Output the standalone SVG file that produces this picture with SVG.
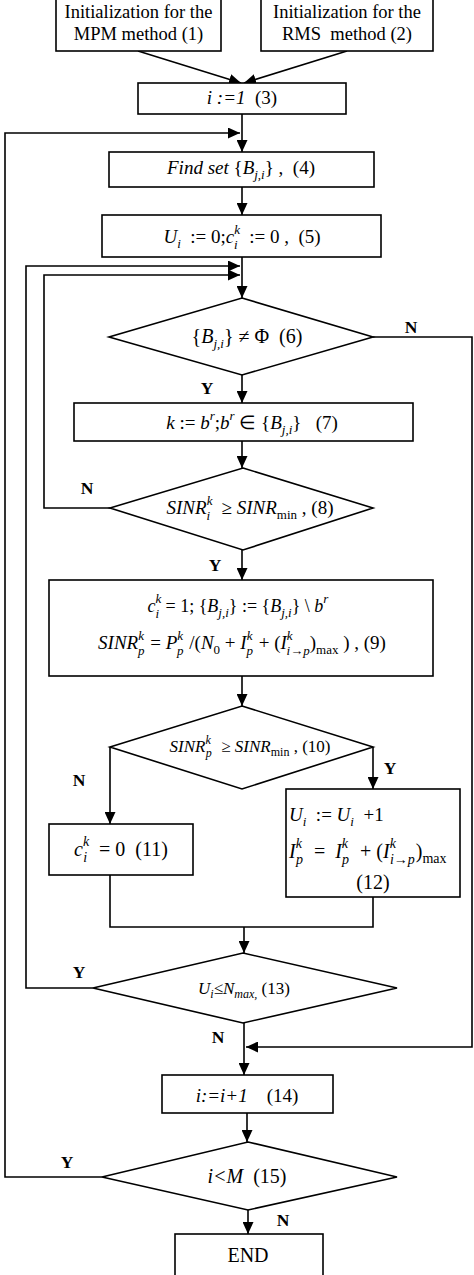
<svg xmlns="http://www.w3.org/2000/svg" width="474" height="1275" viewBox="0 0 474 1275">
<defs>
<style>
.box{fill:#fff;stroke:#000;stroke-width:1.6}
.ln{fill:none;stroke:#000;stroke-width:1.6}
text{font-family:"Liberation Serif","Times New Roman",serif;fill:#000;white-space:pre}
.f17{font-size:17px}
.f18{font-size:18px}
.f185{font-size:18.5px}
.f19{font-size:19px}
.f20{font-size:20px}
.i{font-style:italic}
.s{font-size:13px}
.s12{font-size:12px}
.s14{font-size:14px}
.lbl{font-size:17.5px;font-weight:bold}
</style>
<marker id="ar" markerWidth="12" markerHeight="11" refX="12" refY="5.5" orient="auto" markerUnits="userSpaceOnUse">
<path d="M0,0 L12,5.5 L0,11 z" fill="#000"/>
</marker>
</defs>
<rect width="474" height="1275" fill="#fff"/>

<g id="connectors">
<line class="ln" x1="138" y1="51" x2="241" y2="83" marker-end="url(#ar)"/>
<line class="ln" x1="347" y1="51" x2="244" y2="83" marker-end="url(#ar)"/>
<line class="ln" x1="242" y1="114" x2="242" y2="152" marker-end="url(#ar)"/>
<polyline class="ln" points="102,1177 5,1177 5,133 240,133" marker-end="url(#ar)"/>
<line class="ln" x1="242" y1="187" x2="242" y2="215" marker-end="url(#ar)"/>
<line class="ln" x1="242" y1="257" x2="242" y2="298" marker-end="url(#ar)"/>
<polyline class="ln" points="93,988 26,988 26,266 240,266" marker-end="url(#ar)"/>
<polyline class="ln" points="110,508 44,508 44,275 240,275" marker-end="url(#ar)"/>
<polyline class="ln" points="373,337 472,337 472,1047 246,1047" marker-end="url(#ar)"/>
<line class="ln" x1="242" y1="375" x2="242" y2="403" marker-end="url(#ar)"/>
<line class="ln" x1="242" y1="441" x2="242" y2="468" marker-end="url(#ar)"/>
<line class="ln" x1="242" y1="550" x2="242" y2="580" marker-end="url(#ar)"/>
<line class="ln" x1="242" y1="676" x2="242" y2="706" marker-end="url(#ar)"/>
<polyline class="ln" points="110,747 110,824" marker-end="url(#ar)"/>
<polyline class="ln" points="373,747 373,789" marker-end="url(#ar)"/>
<polyline class="ln" points="110,875 110,927 373,927 373,897"/>
<line class="ln" x1="244" y1="927" x2="244" y2="953" marker-end="url(#ar)"/>
<line class="ln" x1="244" y1="1023" x2="244" y2="1075" marker-end="url(#ar)"/>
<line class="ln" x1="247" y1="1113" x2="247" y2="1142" marker-end="url(#ar)"/>
<line class="ln" x1="248" y1="1210" x2="248" y2="1234" marker-end="url(#ar)"/>
</g>

<g id="labels">
<text class="lbl" x="411" y="333" text-anchor="middle">N</text>
<text class="lbl" x="207" y="394" text-anchor="middle">Y</text>
<text class="lbl" x="87" y="494" text-anchor="middle">N</text>
<text class="lbl" x="215" y="571" text-anchor="middle">Y</text>
<text class="lbl" x="79" y="786" text-anchor="middle">N</text>
<text class="lbl" x="390" y="774" text-anchor="middle">Y</text>
<text class="lbl" x="79" y="978" text-anchor="middle">Y</text>
<text class="lbl" x="218" y="1043" text-anchor="middle">N</text>
<text class="lbl" x="67" y="1168" text-anchor="middle">Y</text>
<text class="lbl" x="283" y="1226" text-anchor="middle">N</text>
</g>

<g id="n1">
<rect class="box" x="56" y="-2" width="165" height="53"/>
<text class="f185" x="138.5" y="18" text-anchor="middle">Initialization for the</text>
<text class="f185" x="138.5" y="40" text-anchor="middle">MPM method (1)</text>
</g>
<g id="n2">
<rect class="box" x="261" y="-2" width="172" height="53"/>
<text class="f185" x="347" y="18" text-anchor="middle">Initialization for the</text>
<text class="f185" x="347" y="40" text-anchor="middle">RMS  method (2)</text>
</g>
<g id="n3">
<rect class="box" x="138" y="83" width="208" height="31"/>
<text class="f19" x="242" y="104" text-anchor="middle"><tspan class="i">i :=1</tspan>  (3)</text>
</g>
<g id="n4">
<rect class="box" x="109" y="152" width="265" height="35"/>
<text class="f19" x="241" y="174" text-anchor="middle"><tspan class="i">Find set </tspan>{<tspan class="i">B</tspan><tspan class="s i" dy="5">j,i</tspan><tspan dy="-5">} ,  (4)</tspan></text>
</g>
<g id="n5">
<rect class="box" x="102" y="215" width="279" height="42"/>
<text class="f19" x="242" y="243" text-anchor="middle"><tspan class="i">U</tspan><tspan class="s i" dy="5">i</tspan><tspan dy="-5">  := 0;</tspan><tspan class="i">c</tspan><tspan class="s i" dy="-9">k</tspan><tspan class="s i" dx="-6" dy="15">i</tspan><tspan dx="2" dy="-6">  := 0 ,  (5)</tspan></text>
</g>
<g id="n6">
<polygon class="box" points="242,298 373,337 242,375 109,337"/>
<text class="f20" x="247" y="343" text-anchor="middle">{<tspan class="i">B</tspan><tspan class="s i" dy="5">j,i</tspan><tspan dy="-5">} ≠ Φ  (6)</tspan></text>
</g>
<g id="n7">
<rect class="box" x="74" y="403" width="339" height="38"/>
<text class="f19" x="252" y="429" text-anchor="middle"><tspan class="i">k</tspan> := <tspan class="i">b</tspan><tspan class="s i" dy="-9">r</tspan><tspan dy="9">;</tspan><tspan class="i">b</tspan><tspan class="s i" dy="-9">r</tspan><tspan dy="9"> ∈ {</tspan><tspan class="i">B</tspan><tspan class="s i" dy="5">j,i</tspan><tspan dy="-5">}   (7)</tspan></text>
</g>
<g id="n8">
<polygon class="box" points="243,468 373,508 243,550 110,508"/>
<text class="f19" x="250" y="514" text-anchor="middle"><tspan class="i">SINR</tspan><tspan class="s i" dy="-9">k</tspan><tspan class="s i" dx="-6" dy="15">i</tspan><tspan dx="2" dy="-6">  ≥ </tspan><tspan class="i">SINR</tspan><tspan class="s" dy="5">min</tspan><tspan dy="-5"> , (8)</tspan></text>
</g>
<g id="n9">
<rect class="box" x="49" y="580" width="384" height="96"/>
<text class="f18" x="238" y="612" text-anchor="middle"><tspan class="i">c</tspan><tspan class="s i" dy="-9">k</tspan><tspan class="s i" dx="-6" dy="15">i</tspan><tspan dx="2" dy="-6"> = 1; {</tspan><tspan class="i">B</tspan><tspan class="s i" dy="5">j,i</tspan><tspan dy="-5">} := {</tspan><tspan class="i">B</tspan><tspan class="s i" dy="5">j,i</tspan><tspan dy="-5">} \ </tspan><tspan class="i">b</tspan><tspan class="s i" dy="-9">r</tspan></text>
<text class="f19" x="242" y="649" text-anchor="middle"><tspan class="i">SINR</tspan><tspan class="s i" dy="-9">k</tspan><tspan class="s i" dx="-6" dy="15">p</tspan><tspan dx="1" dy="-6"> = </tspan><tspan class="i">P</tspan><tspan class="s i" dy="-9">k</tspan><tspan class="s i" dx="-6" dy="15">p</tspan><tspan dx="1" dy="-6"> /(</tspan><tspan class="i">N</tspan><tspan class="s" dy="5">0</tspan><tspan dy="-5"> + </tspan><tspan class="i">I</tspan><tspan class="s i" dy="-9">k</tspan><tspan class="s i" dx="-6" dy="15">p</tspan><tspan dx="1" dy="-6"> + (</tspan><tspan class="i">I</tspan><tspan class="s i" dy="-9">k</tspan><tspan class="s i" dx="-6" dy="15">i→p</tspan><tspan dy="-6">)</tspan><tspan class="s" dy="5">max</tspan><tspan dy="-5"> ) , (9)</tspan></text>
</g>
<g id="n10">
<polygon class="box" points="242,706 373,747 242,789 110,747"/>
<text class="f17" x="250" y="752" text-anchor="middle"><tspan class="i">SINR</tspan><tspan class="s12 i" dy="-8">k</tspan><tspan class="s12 i" dx="-5" dy="13">p</tspan><tspan dx="1" dy="-5">  ≥ </tspan><tspan class="i">SINR</tspan><tspan class="s12" dy="4">min</tspan><tspan dy="-4"> , (10)</tspan></text>
</g>
<g id="n11">
<rect class="box" x="49" y="824" width="144" height="51"/>
<text class="f20" x="121" y="856" text-anchor="middle"><tspan class="i">c</tspan><tspan class="s14 i" dy="-10">k</tspan><tspan class="s14 i" dx="-6" dy="16">i</tspan><tspan dx="2" dy="-6">  = 0  (11)</tspan></text>
</g>
<g id="n12">
<rect class="box" x="286" y="789" width="174" height="108"/>
<text class="f19" x="289" y="821"><tspan class="i">U</tspan><tspan class="s i" dy="5">i</tspan><tspan dy="-5">  := </tspan><tspan class="i">U</tspan><tspan class="s i" dy="5">i</tspan><tspan dy="-5">  +1</tspan></text>
<text class="f20" x="289" y="858"><tspan class="i">I</tspan><tspan class="s14 i" dy="-10">k</tspan><tspan class="s14 i" dx="-6" dy="16">p</tspan><tspan dx="1" dy="-6">  =  </tspan><tspan class="i">I</tspan><tspan class="s14 i" dy="-10">k</tspan><tspan class="s14 i" dx="-6" dy="16">p</tspan><tspan dx="1" dy="-6">  + (</tspan><tspan class="i">I</tspan><tspan class="s14 i" dy="-10">k</tspan><tspan class="s14 i" dx="-6" dy="16">i→p</tspan><tspan dx="1" dy="-6">)</tspan><tspan class="s14" dy="5">max</tspan></text>
<text class="f20" x="373" y="889" text-anchor="middle">(12)</text>
</g>
<g id="n13">
<polygon class="box" points="243,953 397,988 243,1023 93,988"/>
<text class="f17" x="244" y="994" text-anchor="middle"><tspan class="i">U</tspan><tspan class="s12 i" dy="4">i</tspan><tspan dy="-4">≤</tspan><tspan class="i">N</tspan><tspan class="s12 i" dy="4">max,</tspan><tspan dy="-4"> (13)</tspan></text>
</g>
<g id="n14">
<rect class="box" x="162" y="1075" width="171" height="38"/>
<text class="f19" x="247" y="1102" text-anchor="middle"><tspan class="i">i:=i+1</tspan>    (14)</text>
</g>
<g id="n15">
<polygon class="box" points="248,1142 397,1177 248,1210 102,1177"/>
<text class="f20" x="247" y="1183" text-anchor="middle"><tspan class="i">i&lt;M</tspan>  (15)</text>
</g>
<g id="n16">
<rect class="box" x="175" y="1234" width="148" height="46"/>
<text class="f20" x="248" y="1262" text-anchor="middle">END</text>
</g>
</svg>
